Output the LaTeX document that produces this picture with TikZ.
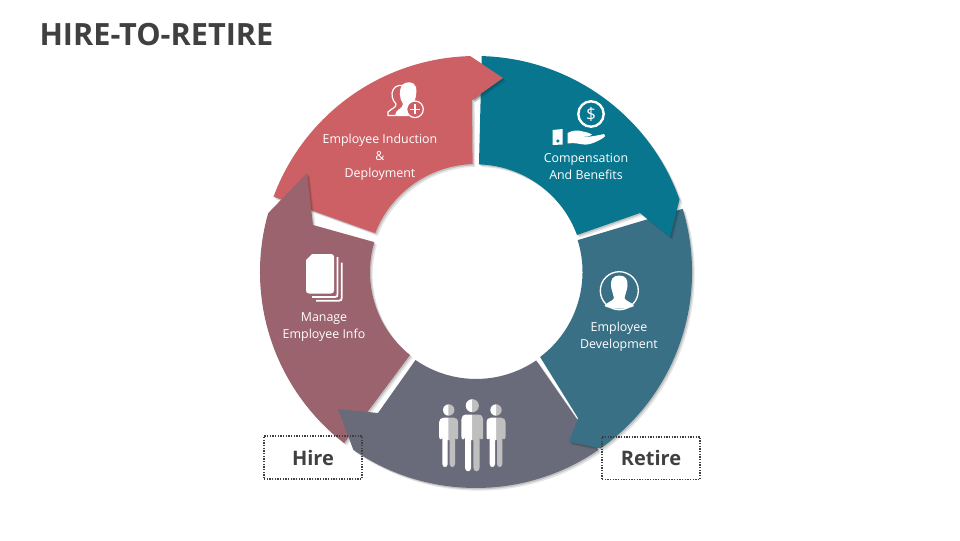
\documentclass[tikz,border=0pt]{standalone}
\usepackage{fontspec}
\setmainfont{Open Sans}
\usetikzlibrary{shadows}

\definecolor{induction}{RGB}{205,96,101}
\definecolor{benefits}{RGB}{8,118,143}
\definecolor{development}{RGB}{58,112,133}
\definecolor{staff}{RGB}{105,107,122}
\definecolor{info}{RGB}{154,99,109}
\definecolor{heading}{RGB}{64,64,64}

\tikzset{every picture/.style={line width=0.75pt},
  segment/.style={draw=none,
    drop shadow={shadow xshift=2pt,shadow yshift=-2pt,opacity=0.1,fill=black},
    drop shadow={shadow xshift=1pt,shadow yshift=-1pt,opacity=0.15,fill=black}},
  label/.style={text=white,font=\fontsize{9.3}{12.7}\selectfont,align=center,inner sep=0.75pt},
  endbox/.style={draw=heading,densely dotted,line width=1pt,minimum width=73.5pt,minimum height=32.2pt,text=heading,font=\fontsize{15}{18}\selectfont\bfseries}}

% half of a man, its head at (0,0)
\newcommand{\halfman}[1]{
  \fill[#1] (0,-5.7) arc[start angle=-90,end angle=90,radius=5.7] -- cycle;
  \fill[#1] (0,7.7) -- (5,7.7) .. controls (8,7.7) and (9.5,9.5) .. (9.5,12) -- (9.5,27) .. controls (9.5,30) and (6.5,30) .. (6.3,27) -- (6.3,54) .. controls (6.3,58) and (1,58) .. (1,54) -- (1,30) -- (0,30) -- cycle;
}
% #1 head position, #2 scale
\newcommand{\staffman}[2]{
  \begin{scope}[shift={#1},scale=#2]
    \halfman{black!25}
    \begin{scope}[xscale=-1]
      \halfman{white}
    \end{scope}
  \end{scope}
}

\begin{document}
\begin{tikzpicture}[x=0.75pt,y=0.75pt,yscale=-1,xscale=1]
\path[use as bounding box] (0,0) rectangle (960,540);

% Shape: red segment
\path[segment,fill=induction] (273.5,196.7) arc[start angle=200.4,end angle=268.4,radius=216] -- (503,78) -- (472,100) -- (472.6,164.1) arc[start angle=268.2,end angle=201.1,radius=108] -- cycle;
% Shape: mauve segment
\path[segment,fill=info] (344.2,443.1) arc[start angle=127.6,end angle=195.8,radius=216] -- (307,173) -- (313,225) -- (374.3,242.1) arc[start angle=196.4,end angle=128.5,radius=106] -- cycle;
% Shape: grey segment
\path[segment,fill=staff] (598.3,450) arc[start angle=55.5,end angle=124.6,radius=216] -- (338,409) -- (378,413) -- (415.5,360) arc[start angle=124.7,end angle=55.7,radius=106.5] -- cycle;
% Shape: blue segment
\path[segment,fill=development] (682.6,208.8) arc[start angle=-17,end angle=54.8,radius=216] -- (569,442) -- (578,418) -- (540.1,357) arc[start angle=53,end angle=-17.4,radius=106.5] -- cycle;
% Shape: teal segment
\path[segment,fill=benefits] (481.7,56.1) arc[start angle=271.5,end angle=340.4,radius=216] -- (670,237) -- (640,213) -- (577,235) arc[start angle=339.9,end angle=271.6,radius=107.6] -- cycle;
% Shape: red head again, it lies on the teal
\path[segment,fill=induction] (470,56.1) -- (503,78) -- (472,100) -- cycle;

% Icon: person with plus
\draw[white,line width=0.9pt,fill=induction] (388,115.5) -- (388,112) .. controls (392,108) and (396,108) .. (396,104) .. controls (392,100) and (391,94) .. (393,90) .. controls (395,85) and (402,84) .. (406,87) -- (410,100) -- (410,115.5) -- cycle;
\fill[white] (395,115.7) .. controls (395,109) and (403,109) .. (403,104) .. controls (399,98) and (399,90) .. (402,85) .. controls (406,81) and (414,81) .. (416,87) .. controls (417,92) and (416,98) .. (414,102) -- (420,115.7) -- cycle;
\draw[white,line width=0.9pt,fill=induction] (415,109.3) circle[radius=8.3];
\draw[white,line width=0.8pt] (410,109.3) -- (420,109.3) (415,104.3) -- (415,114.3);

% Icon: hand with coin
\draw[white,line width=1.8pt] (591,114) circle[radius=12.7];
\node (coin) [text=white,inner sep=0pt,font=\fontsize{13}{14}\selectfont] at (591,114) {\$};
\fill[white] (552.5,130) -- (562.5,129) -- (562.7,144.5) -- (552.5,145) -- cycle;
\fill[benefits] (557.8,141) circle[radius=1.8];
\fill[white] (567.5,133) .. controls (573,130) and (578,130) .. (583,131.5) .. controls (587,132.5) and (590,133) .. (592,134.5) .. controls (590,137) and (584,136) .. (581,135.5) .. controls (586,138) and (595,136) .. (604,134) .. controls (606,135) and (605,137) .. (603,138) .. controls (595,143) and (587,146) .. (580,144) .. controls (576,143) and (572,143) .. (567.5,143.5) -- cycle;

% Icon: pile of pages
\draw[white,line width=1.3pt] (312,297) -- (335,297) .. controls (337,297) and (337.5,296) .. (337.5,294) -- (337.5,257);
\draw[white,line width=1.3pt] (316,300.7) -- (339,300.7) .. controls (341,300.7) and (341.7,300) .. (341.7,298) -- (341.7,262.7);
\fill[white] (312,254) -- (331,254) .. controls (333,254) and (334,255) .. (334,257) -- (334,290) .. controls (334,292.5) and (333,293.5) .. (331,293.5) -- (309,293.5) .. controls (307,293.5) and (306,292.5) .. (306,290) -- (306,260) -- cycle;

% Icon: person in circle
\draw[white,line width=1pt] (619.3,290.7) circle[radius=19];
\fill[white] (619.3,275.5) .. controls (626,275.5) and (628,280) .. (627.5,286) .. controls (627,291) and (625,294) .. (624.5,298) .. controls (625,301) and (632,302) .. (634,306) .. controls (629,309.5) and (609,309.5) .. (604.5,306) .. controls (606.5,302) and (613.5,301) .. (614,298) .. controls (613.5,294) and (611.5,291) .. (611,286) .. controls (610.5,280) and (612.5,275.5) .. (619.3,275.5) -- cycle;

% Icon: three men
\staffman{(448.7,410)}{1}
\staffman{(496,410)}{1}
\staffman{(472.3,405.7)}{1.15}

% Text Node
\draw (39,34.5) node (title) [anchor=west,inner sep=0pt,text=heading,font=\fontsize{23}{28}\selectfont\bfseries] {HIRE-TO-RETIRE};
% Text Node
\draw (380,157) node (inductiontext) [label] {Employee Induction\\\&\\Deployment};
% Text Node
\draw (586,166.5) node (benefitstext) [label] {Compensation\\And Benefits};
% Text Node
\draw (324,327) node (infotext) [label] {Manage\\Employee Info};
% Text Node
\draw (619,336.5) node (developmenttext) [label] {Employee\\Development};
% Text Node
\draw (313,457.5) node (hire) [endbox] {Hire};
% Text Node
\draw (651,458.3) node (retire) [endbox] {Retire};

\end{tikzpicture}
\end{document}
